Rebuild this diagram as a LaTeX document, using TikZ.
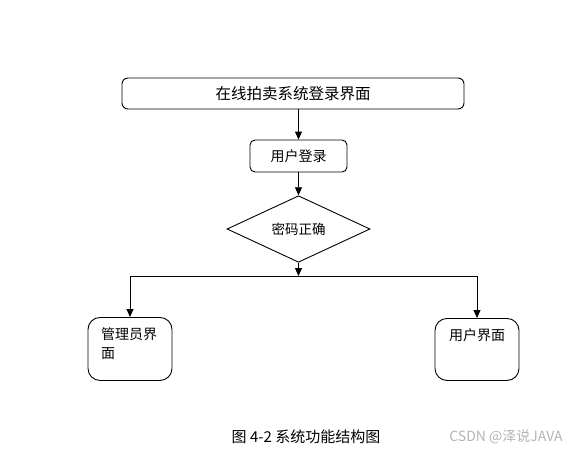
\documentclass[tikz,border=0pt]{standalone}
\usepackage{fontspec}
\setmainfont{Noto Sans CJK SC}
\usepackage{xcolor}
\usepackage{tikz}
\usetikzlibrary{shapes.geometric,arrows.meta,positioning,calc}
\definecolor{markgray}{HTML}{B4B4B4}

\begin{document}
\begin{tikzpicture}[
    x=1pt, y=-1pt,
    box/.style={rectangle, draw, rounded corners=5pt, font=\fontsize{14}{16}\selectfont, fill=white, line width=0.9pt},
    decision/.style={diamond, draw, minimum width=143pt, minimum height=52pt, inner sep=0pt, font=\fontsize{13.5}{15}\selectfont, line width=0.9pt},
    pagebox/.style={rectangle, draw, rounded corners=12pt, inner xsep=13pt, inner ysep=10pt, font=\fontsize{14}{19}\selectfont, line width=0.9pt},
    arrow/.style={-{Triangle[length=8pt, width=7pt]}, line width=0.9pt},
    caption/.style={font=\fontsize{15}{17}\selectfont}
]
\useasboundingbox (0,0) rectangle (584,456);

% Login page
\node[box, rounded corners=6pt, minimum width=342pt, minimum height=31pt, font=\fontsize{15.5}{18}\selectfont] (title) at (293,93.5) {在线拍卖系统登录界面};

% Login step
\node[box, minimum width=97pt, minimum height=32pt] (login) at (298.5,156) {用户登录};
\draw[arrow] (title.south -| login) -- (login);

% Password check
\node[decision] (check) at (298.5,229) {密码正确};
\draw[arrow] (login) -- (check);

% Split to the two pages
\coordinate (split) at (298.5,276);
\draw[arrow] (check) -- (split);

\node[pagebox, anchor=north] (admin) at (130,317) {\parbox[c][43pt][t]{58pt}{管理员界\\面}};
\node[pagebox, anchor=north] (user) at (477,318) {\parbox[c][42pt][t]{58pt}{\centering 用户界面}};
\draw[arrow] (split) -| (admin);
\draw[arrow] (split) -| (user);

% Caption
\node[caption] (cap) at (306,437) {图 4-2 系统功能结构图};
\node[font=\fontsize{14}{16}\selectfont, text=markgray] (mark) at (506,437) {CSDN @泽说JAVA};

\end{tikzpicture}
\end{document}
